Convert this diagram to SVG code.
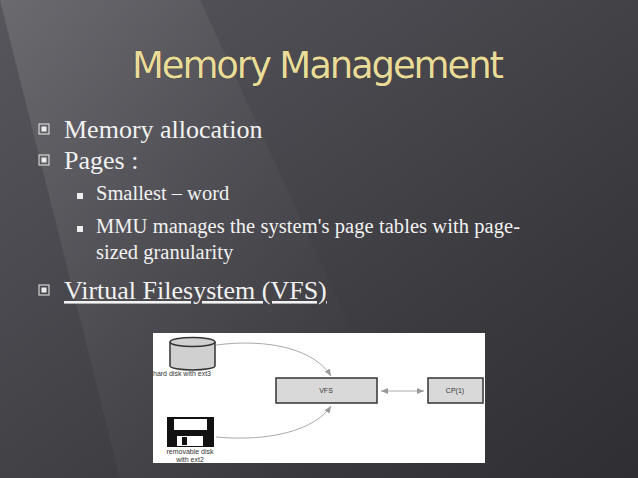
<svg xmlns="http://www.w3.org/2000/svg" width="638" height="478" viewBox="0 0 638 478">
<defs>
<linearGradient id="bg" x1="0" y1="0" x2="1" y2="1">
<stop offset="0" stop-color="#57565c"/><stop offset="0.3" stop-color="#4b4a50"/><stop offset="0.7" stop-color="#3a393e"/><stop offset="1" stop-color="#2f2e33"/>
</linearGradient>
<linearGradient id="beam" x1="0" y1="0" x2="1" y2="0.6">
<stop offset="0" stop-color="#ffffff" stop-opacity="0.12"/><stop offset="0.5" stop-color="#ffffff" stop-opacity="0.04"/><stop offset="1" stop-color="#ffffff" stop-opacity="0"/>
</linearGradient>
<marker id="ah" markerWidth="8" markerHeight="8" refX="7" refY="4" orient="auto-start-reverse" markerUnits="userSpaceOnUse"><path d="M0,1 L7,4 L0,7 Z" fill="#999"/></marker>
<style>
.b{font-family:"Liberation Serif",serif;fill:#f2f2f2}
.sm{font-family:"Liberation Sans",Arial,sans-serif;font-size:7px;fill:#333}
.bx{fill:#d9d9d9;stroke:#333;stroke-width:1.5}
.c{fill:none;stroke:#aaa;stroke-width:1}
</style>
</defs>
<rect width="638" height="478" fill="url(#bg)"/>
<polygon points="0,0 200,0 420,478 120,478" fill="url(#beam)"/>
<text x="318" y="78" text-anchor="middle" font-family="DejaVu Sans, sans-serif" font-size="37" textLength="372" fill="#e9dc98" stroke="#2a2a2a" stroke-width="0.6" style="paint-order:stroke">Memory Management</text>
<g id="bullets">
<rect x="39" y="124" width="10" height="10" fill="none" stroke="#eee" stroke-width="1"/><rect x="41.5" y="126.5" width="5" height="5" fill="#eee"/>
<text class="b" x="64" y="138" font-size="26">Memory allocation</text>
<rect x="39" y="155" width="10" height="10" fill="none" stroke="#eee" stroke-width="1"/><rect x="41.5" y="157.5" width="5" height="5" fill="#eee"/>
<text class="b" x="64" y="169" font-size="26">Pages :</text>
<rect x="77" y="193" width="6" height="6" fill="#eee"/>
<text class="b" x="96" y="200" font-size="20.5">Smallest – word</text>
<rect x="77" y="226" width="6" height="6" fill="#eee"/>
<text class="b" x="96" y="233" font-size="20.5" textLength="424">MMU manages the system's page tables with page-</text>
<text class="b" x="96" y="259" font-size="20.5">sized granularity</text>
<rect x="39" y="285" width="10" height="10" fill="none" stroke="#eee" stroke-width="1"/><rect x="41.5" y="287.5" width="5" height="5" fill="#eee"/>
<text class="b" x="64" y="299" font-size="26" text-decoration="underline">Virtual Filesystem (VFS)</text>
</g>
<rect x="153" y="333" width="332" height="130" fill="#fff"/>
<g id="connectors">
<path class="c" d="M216,345 C270,338 315,350 331,376" marker-end="url(#ah)"/>
<path class="c" d="M216,437 C270,442 315,430 331,406" marker-end="url(#ah)"/>
<line class="c" x1="381" y1="391" x2="424" y2="391" marker-start="url(#ah)" marker-end="url(#ah)"/>
</g>
<g id="harddisk">
<path d="M170,342 L170,366 A22.5,4 0 0 0 215,366 L215,342" fill="#d0d0d0" stroke="#333" stroke-width="1.5"/>
<ellipse cx="192.5" cy="342" rx="22.5" ry="4.5" fill="#d0d0d0" stroke="#333" stroke-width="1.5"/>
<text class="sm" x="153" y="376">hard disk with ext3</text>
</g>
<g id="floppy">
<rect x="167" y="417" width="47" height="30" fill="#111"/>
<rect x="174" y="419" width="33" height="11" fill="#fff"/>
<rect x="177" y="436" width="26" height="10" fill="#fff"/>
<rect x="182" y="437" width="5" height="8" fill="#111"/>
<text class="sm" x="190" y="454" text-anchor="middle">removable disk</text>
<text class="sm" x="190" y="462" text-anchor="middle">with ext2</text>
</g>
<g id="vfs"><rect class="bx" x="276" y="378" width="101" height="25"/><text class="sm" x="326" y="393" text-anchor="middle">VFS</text></g>
<g id="cp"><rect class="bx" x="428" y="378" width="55" height="25"/><text class="sm" x="455" y="393" text-anchor="middle">CP(1)</text></g>
</svg>
